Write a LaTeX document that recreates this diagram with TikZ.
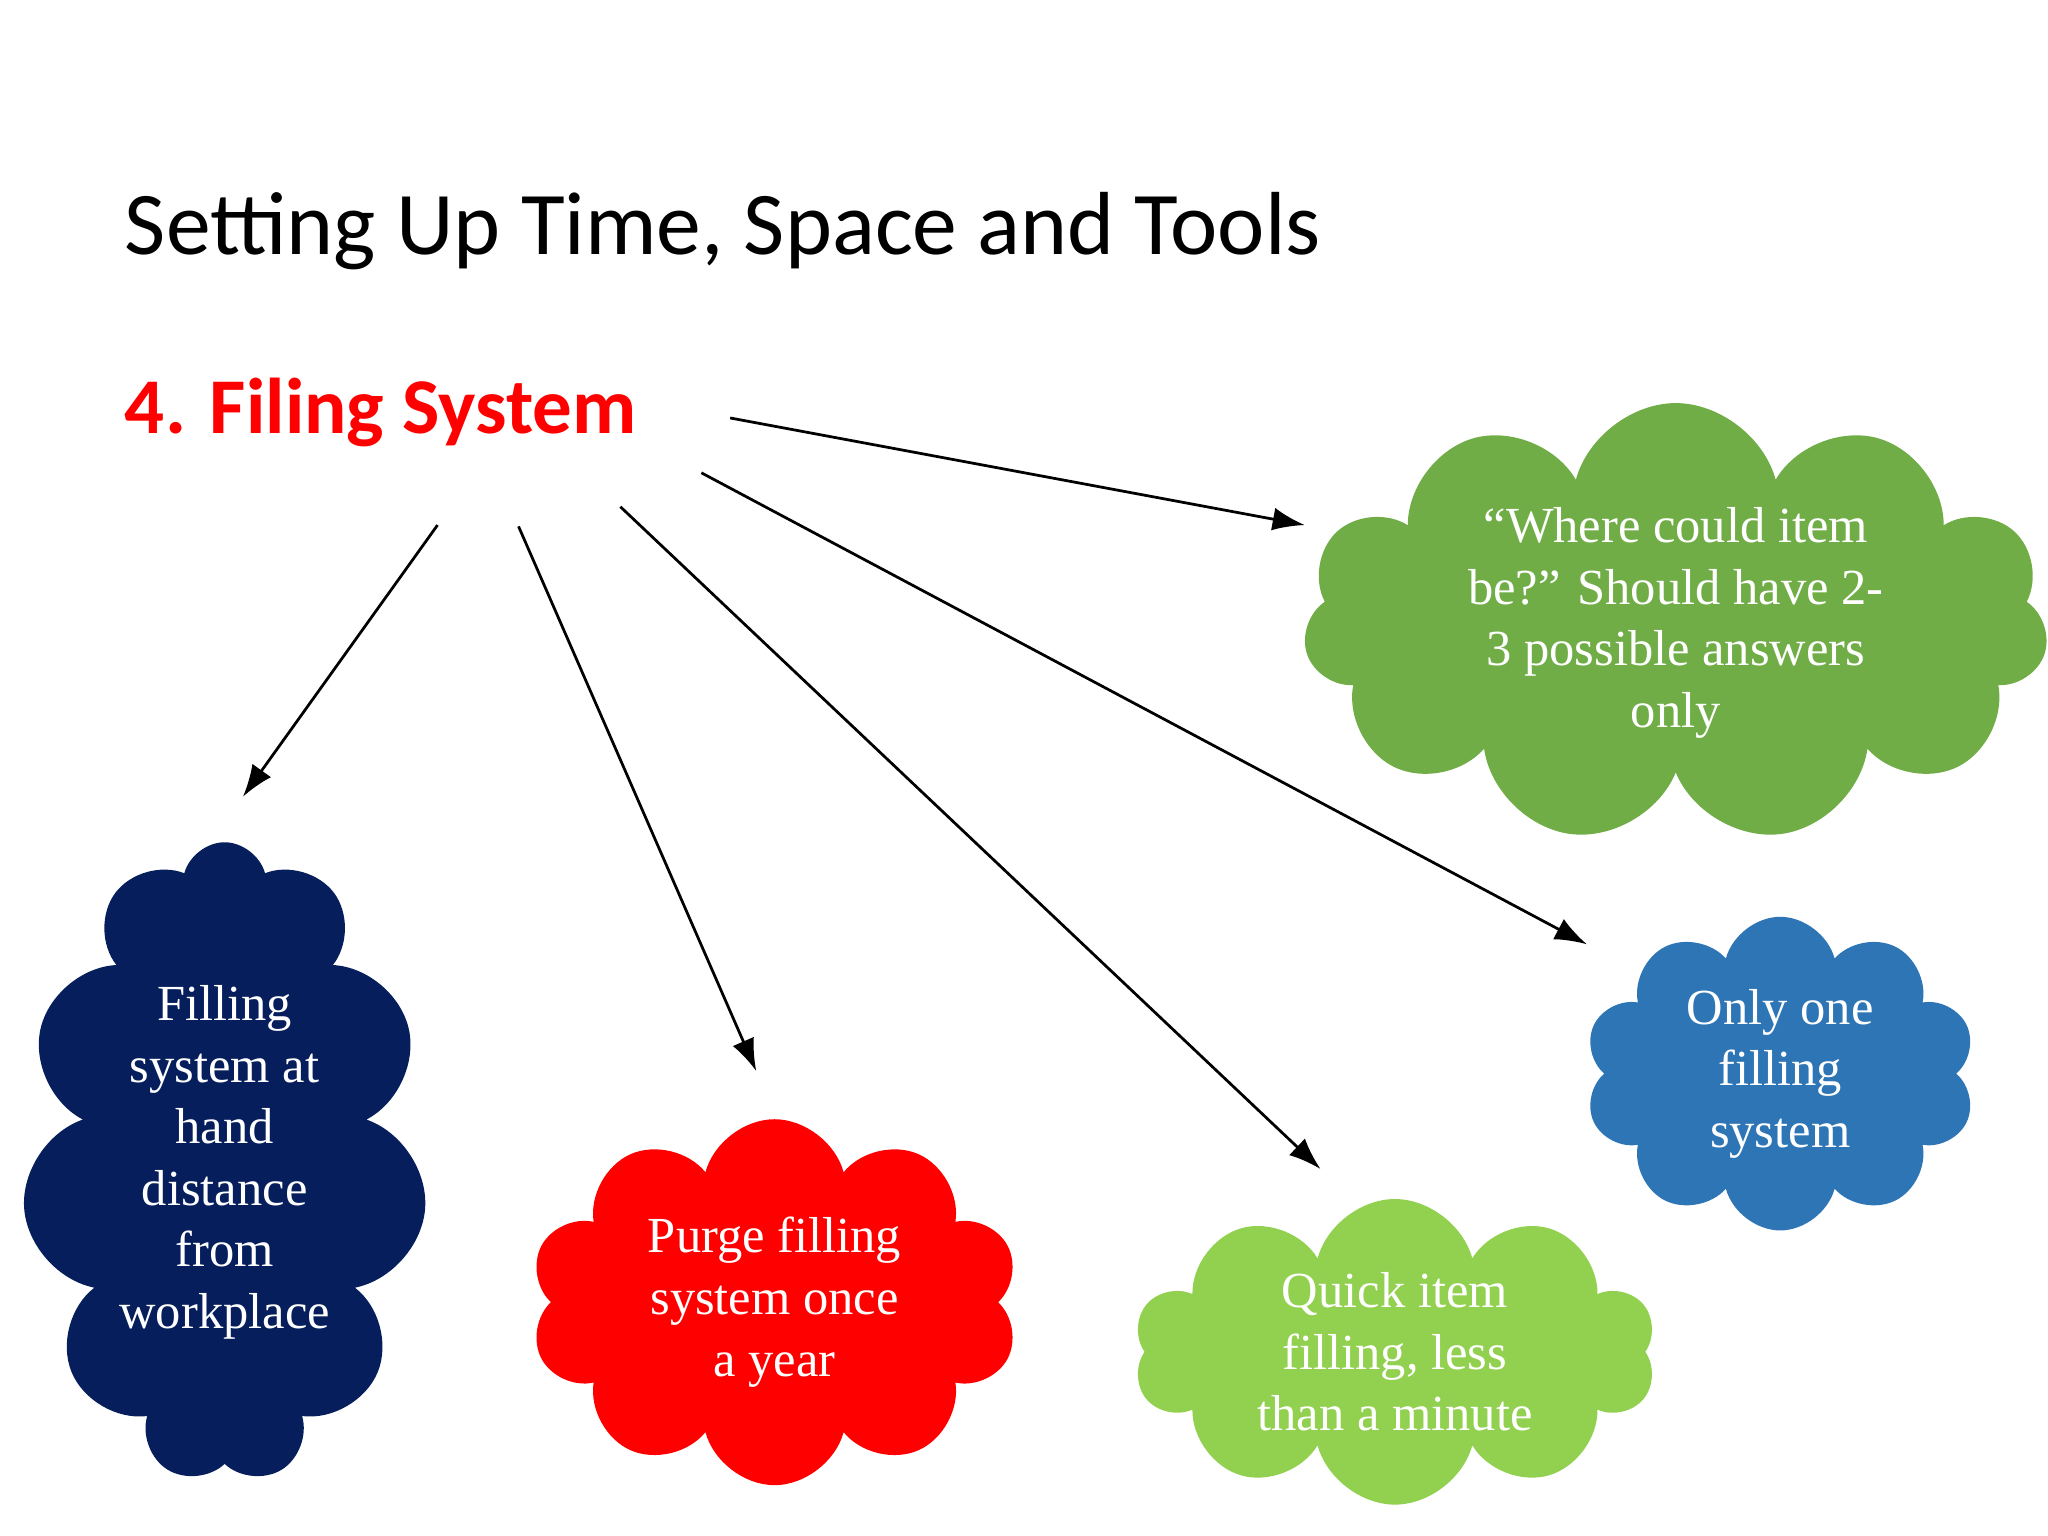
\documentclass[tikz,border=0pt]{standalone}
\usepackage{fontspec}
\setmainfont{Liberation Serif}
\newfontfamily\titlefont{Carlito}
\usetikzlibrary{shapes.symbols,arrows.meta}
\definecolor{navy}{RGB}{6,30,92}
\definecolor{cred}{RGB}{255,0,0}
\definecolor{lgreen}{RGB}{146,208,80}
\definecolor{mgreen}{RGB}{112,173,71}
\definecolor{cblue}{RGB}{46,117,182}
\begin{document}
\begin{tikzpicture}[x=0.01cm,y=-0.01cm,
  cl/.style={cloud, cloud puffs=#1, draw=none, text=white, align=center,
    font=\fontsize{11}{13.4}\selectfont, inner sep=0pt, cloud ignores aspect},
  arr/.style={-{Latex[length=7pt,width=5pt]}, line width=0.6pt}]
\useasboundingbox (0,0) rectangle (1568,1176);
\node[anchor=base west, inner sep=0pt, font=\titlefont\fontsize{19.5}{23}\selectfont] (title) at (95,195) {Setting Up Time, Space and Tools};
\node[anchor=base west, inner sep=0pt, text=cred, font=\titlefont\bfseries\fontsize{17.2}{21}\selectfont] (sub) at (95,332) {4. Filing System};

\node[cl=11, fill=navy, minimum width=3.1cm, minimum height=4.9cm] (c1) at (172,890)
  {Filling\\system at\\hand\\distance\\from\\workplace};
\node[cl=10, fill=cred, minimum width=3.75cm, minimum height=2.8cm] (c2) at (593,997)
  {Purge filling\\system once\\a year};
\node[cl=10, fill=lgreen, minimum width=4.0cm, minimum height=2.3cm] (c3) at (1068,1035)
  {Quick item\\filling, less\\than a minute};
\node[cl=10, fill=cblue, minimum width=3.0cm, minimum height=2.4cm] (c4) at (1363,822)
  {Only one\\filling\\system};
\node[cl=11, fill=mgreen, minimum width=5.7cm, minimum height=2.05cm] (c5) at (1283,477)
  {``Where could item\\be?'' Should have 2-\\3 possible answers\\only};

\coordinate (s1) at (335,402); \coordinate (e1) at (186,610);
\coordinate (s2) at (397,403); \coordinate (e2) at (579,820);
\coordinate (s3) at (475,388); \coordinate (e3) at (1011,895);
\coordinate (s4) at (537,362); \coordinate (e4) at (1215,723);
\coordinate (s5) at (559,320); \coordinate (e5) at (999,402);
\foreach \i in {1,...,5} {\draw[arr] (s\i) -- (e\i);}
\end{tikzpicture}
\end{document}
